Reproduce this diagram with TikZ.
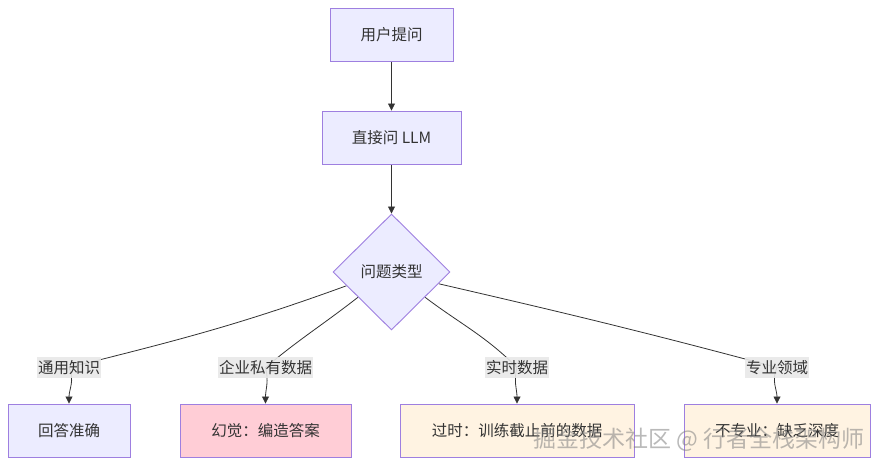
\documentclass[tikz,border=0pt]{standalone}
\usepackage{fontspec}
\setmainfont{Noto Sans CJK SC}
\usetikzlibrary{shapes.geometric,arrows.meta,backgrounds}
\definecolor{nfill}{HTML}{ECECFF}
\definecolor{nstroke}{HTML}{9E7FE0}
\definecolor{pinkfill}{HTML}{FFCDD6}
\definecolor{orangefill}{HTML}{FFF3E2}
\definecolor{txt}{HTML}{333333}
\definecolor{edgec}{HTML}{333333}
\definecolor{lblbg}{HTML}{E8E8E8}
\begin{document}
\begin{tikzpicture}[x=1pt,y=-1pt,
  font=\fontsize{15.5}{18}\selectfont,
  box/.style={draw=nstroke, fill=nfill, line width=0.9pt, minimum height=53pt, inner sep=0pt, text=txt},
  lbl/.style={fill=lblbg, fill opacity=0.9, text opacity=1, inner sep=1pt, text=txt, minimum height=21pt},
  conn/.style={draw=edgec, line width=0.8pt},
  arr/.style={conn, -{Triangle[length=7pt,width=7pt]}}]
\useasboundingbox (0,0) rectangle (886,470);

\node[box, minimum width=123pt] (n1) at (391.5,34.5) {用户提问};
\node[box, minimum width=139pt] (n2) at (391.5,137.5) {直接问 LLM};
\node[diamond, draw=nstroke, fill=nfill, line width=0.9pt, minimum width=117pt, minimum height=116pt, inner sep=0pt, text=txt] (d) at (391.5,272) {问题类型};

\node[box, minimum width=122pt] (b1) at (69,430.5) {回答准确};
\node[box, fill=pinkfill, minimum width=171pt] (b2) at (265.5,430.5) {幻觉：编造答案};
\node[box, fill=orangefill, minimum width=234pt] (b3) at (517,430.5) {过时：训练截止前的数据};
\node[box, fill=orangefill, minimum width=186pt] (b4) at (777,430.5) {不专业：缺乏深度};

\node[lbl] (l1) at (69,367.5) {通用知识};
\node[lbl] (l2) at (265.5,367.5) {企业私有数据};
\node[lbl] (l3) at (517,367.5) {实时数据};
\node[lbl] (l4) at (777,367.5) {专业领域};

\begin{pgfonlayer}{background}
\fill[white] (0,0) rectangle (886,470);
\draw[arr] (n1) -- (n2);
\draw[arr] (n2) -- (d);
\draw[arr] (d.197) to[out=200,in=14] (l1.center) to[out=-65,in=90] (b1.north);
\draw[arr] (d.217) to[out=218,in=40] (l2.center) to[out=-75,in=90] (b2.north);
\draw[arr] (d.323) to[out=-37,in=135] (l3.center) to[out=-105,in=90] (b3.north);
\draw[arr] (d.346) to[out=-13,in=165] (l4.center) to[out=-115,in=90] (b4.north);
\end{pgfonlayer}

\node[text=gray, opacity=0.55, font=\fontsize{23}{26}\selectfont] (wm) at (699,440) {掘金技术社区 @ 行者全栈架构师};
\end{tikzpicture}
\end{document}
